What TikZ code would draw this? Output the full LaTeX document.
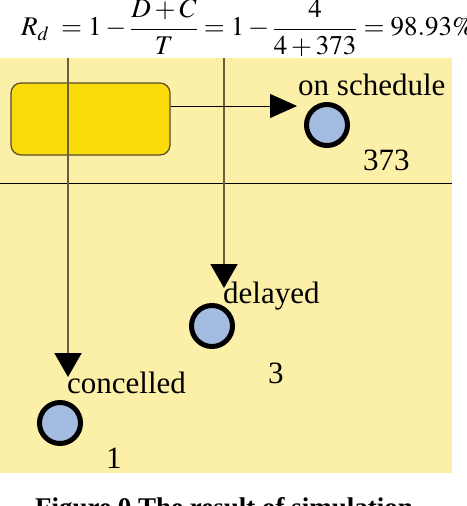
\documentclass[tikz,border=0pt]{standalone}
\usepackage{amsmath}
\usepackage{mathptmx}
\usepackage{fontspec}
\setmainfont{Liberation Serif}
\usetikzlibrary{automata, positioning, arrows.meta}
\definecolor{paleyellow}{RGB}{252,240,168}
\definecolor{boxgold}{RGB}{249,220,10}
\definecolor{stateblue}{RGB}{164,188,226}
\definecolor{linebrown}{RGB}{108,94,60}
\tikzset{
    x=1pt, y=-1pt, % pixel-like coordinates, y downwards
    every state/.style={ % the three result states
        line width=5pt,
        draw=black,
        fill=stateblue,
        minimum size=41pt,
        inner sep=0pt
    },
    lbl/.style={ % labels next to the states
        font=\fontsize{31}{31}\selectfont,
        inner sep=0pt,
        anchor=base west
    },
    flow/.style={ % brown lines down to the states
        draw=linebrown,
        line width=2pt,
        -{Triangle[length=24pt,width=27pt,color=black]}
    },
}
\begin{document}
\begin{tikzpicture}
    \useasboundingbox (0,0) rectangle (466,506);
    \fill[paleyellow] (0,58) rectangle (452,473);
    \draw[line width=1pt] (0,183) -- (452,183);

    \node[draw=linebrown!80!black, line width=1.2pt, fill=boxgold,
          rounded corners=10pt, minimum width=159pt, minimum height=72pt,
          inner sep=0pt]                               (source)  at (90.5,119) {};

    \node[state]                                       (sched)   at (327,125) {};
    \node[state]                                       (delay)   at (212,326) {};
    \node[state]                                       (cancel)  at (60,423)  {};

    \node[lbl]                                         (schedtxt) at (298,95)  {on schedule};
    \node[lbl]                                         (schednum) at (363,170) {373};
    \node[lbl]                                         (delaytxt) at (223,303) {delayed};
    \node[lbl]                                         (delaynum) at (268,383) {3};
    \node[lbl]                                         (canceltxt) at (67,393) {concelled};
    \node[lbl]                                         (cancelnum) at (106,468) {1};

    \coordinate (cstart) at (68,58);
    \coordinate (cend)   at (68,377);
    \coordinate (dstart) at (224,58);
    \coordinate (dend)   at (224,288);
    \coordinate (sin)    at (297,106);

    \draw[flow] (cstart) -- (cend);
    \draw[flow] (dstart) -- (dend);
    \draw[line width=1pt, -{Triangle[length=27pt,width=24pt]}]
            (source.east |- sin) -- (sin);

    \node[anchor=west, inner sep=0pt, font=\fontsize{27}{27}\selectfont]
            (formula) at (21,28)
            {$\displaystyle R_d\;=1-\frac{D+C}{T}=1-\frac{4}{4+373}=98.93\%$};
    \node[anchor=base west, inner sep=0pt, font=\bfseries\fontsize{27}{27}\selectfont]
            (caption) at (35,516) {Figure 0 The result of simulation};
\end{tikzpicture}
\end{document}
